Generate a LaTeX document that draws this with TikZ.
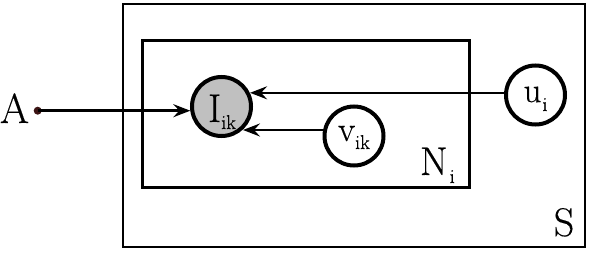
\documentclass[tikz,border=0pt]{standalone}
\usepackage{fontspec}
\newfontfamily\lblfont{Latin Modern Roman}[FakeBold=0.3]
\usetikzlibrary{arrows.meta}
\definecolor{dotcol}{RGB}{60,20,20}
\definecolor{nodefill}{RGB}{192,192,192}
\newcommand{\mysub}[2]{\raisebox{-#1}{\fontsize{20}{20}\selectfont #2}}
\begin{document}
\begin{tikzpicture}[x=1pt,y=-1pt,
  plate/.style={draw=black},
  var/.style={circle,draw=black,line width=4pt,minimum size=59pt,inner sep=0pt,fill=white},
  obs/.style={var,fill=nodefill},
  lbl/.style={inner sep=0pt,outer sep=0pt,font=\lblfont},
  edge/.style={line width=2.5pt,-{Stealth[length=17pt,width=13pt,inset=6pt]}}]
\useasboundingbox (0,0) rectangle (589,252);
% plates
\draw[plate,line width=2.2pt] (123,4) rectangle (585,247);
\draw[plate,line width=3pt] (142.5,40.5) rectangle (469.5,187.5);
% nodes
\node[obs] (I) at (221.5,106.5) {};
\node[var] (u) at (535.5,95) {};
\node[var] (v) at (354,136) {};
\node[circle,fill=dotcol,inner sep=0pt,minimum size=8pt] (Adot) at (37.7,110.7) {};
% labels
\node[lbl,anchor=base] (Itxt) at (222,122) {\fontsize{40}{40}\selectfont I\mysub{7pt}{ik}};
\node[lbl,anchor=base] (utxt) at (535.5,102) {\fontsize{35}{35}\selectfont u\kern1pt\mysub{9pt}{i}};
\node[lbl,anchor=base] (vtxt) at (354,141) {\fontsize{35}{35}\selectfont v\mysub{8pt}{ik}};
\node[lbl,anchor=base] (Atxt) at (14.5,123) {\fontsize{42}{42}\selectfont A};
\node[lbl,anchor=base west] (Ntxt) at (420,175) {\fontsize{40}{40}\selectfont N\kern2pt\mysub{8pt}{i}};
\node[lbl,anchor=base] (Stxt) at (564,236) {\fontsize{40}{40}\selectfont S};
% edges
\draw[edge] (Adot.center) -- (Adot.center -| I.188);
\draw[edge] (u.176) -- (u.176 -| I.25);
\draw[edge] (v.169) -- (v.169 -| I.-47.7);
\end{tikzpicture}
\end{document}
